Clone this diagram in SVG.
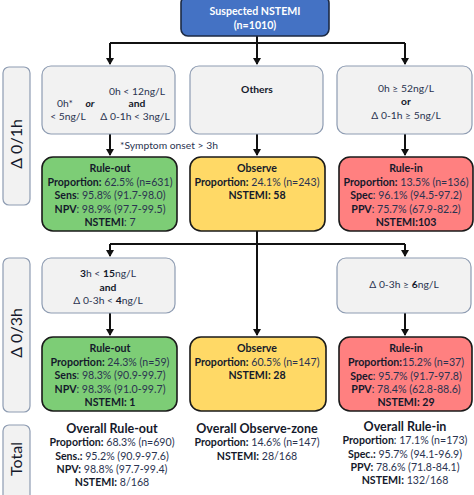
<svg xmlns="http://www.w3.org/2000/svg" width="474" height="495" viewBox="0 0 474 495">
<defs>
<marker id="ah" markerWidth="8" markerHeight="8" refX="6" refY="4" orient="auto" markerUnits="userSpaceOnUse">
<path d="M0,0 L7,4 L0,8 Z" fill="#111"/>
</marker>
<style>
text{font-family:Lato,"Liberation Sans",sans-serif;fill:#2a3350;text-anchor:middle}
.b{font-weight:bold;fill:#15192b}
.t{font-size:10.6px}
.s{font-size:10.3px}
.h{font-size:12.5px}
.gray{fill:#f2f2f2;stroke:#8e9cb2;stroke-width:1.2}
.res{stroke:#1a1a1a;stroke-width:1.6}
.green{fill:#7dcd76}
.yellow{fill:#ffd966}
.red{fill:#ff8080}
.c{fill:none;stroke:#111;stroke-width:2}
.side{font-size:16px;fill:#15192b}
</style>
</defs>
<rect width="474" height="495" fill="#ffffff"/>

<g id="connectors">
<path class="c" d="M257,36 V43"/>
<path class="c" d="M110,43 H405"/>
<path class="c" d="M110,43 V64" marker-end="url(#ah)"/>
<path class="c" d="M257,43 V64" marker-end="url(#ah)"/>
<path class="c" d="M405,43 V64" marker-end="url(#ah)"/>
<path class="c" d="M110,134 V155" marker-end="url(#ah)"/>
<path class="c" d="M257,134 V155" marker-end="url(#ah)"/>
<path class="c" d="M405,134 V155" marker-end="url(#ah)"/>
<path class="c" d="M257,231 V335" marker-end="url(#ah)"/>
<path class="c" d="M110,244 H405"/>
<path class="c" d="M110,244 V256" marker-end="url(#ah)"/>
<path class="c" d="M405,244 V256" marker-end="url(#ah)"/>
<path class="c" d="M110,313 V335" marker-end="url(#ah)"/>
<path class="c" d="M405,313 V335" marker-end="url(#ah)"/>
</g>

<g id="start">
<rect x="181" y="-4" width="148" height="40" rx="7" fill="#4472c4" stroke="#1c2a44" stroke-width="1.6"/>
<text x="255" y="15" class="t b" style="fill:#ffffff">Suspected NSTEMI</text>
<text x="255" y="29" class="t b" style="fill:#ffffff">(n=1010)</text>
</g>

<g id="side1">
<rect x="3" y="67" width="27" height="138" rx="6" class="gray"/>
<text class="side" transform="translate(22,144) rotate(-90)">Δ 0/1h</text>
</g>
<g id="side2">
<rect x="3" y="258" width="27" height="154" rx="6" class="gray"/>
<text class="side" transform="translate(22,333) rotate(-90)">Δ 0/3h</text>
</g>
<g id="side3">
<rect x="3" y="425" width="27" height="80" rx="6" class="gray"/>
<text class="side" transform="translate(22,459) rotate(-90)">Total</text>
</g>

<g id="cond1-out">
<rect x="42" y="66" width="133" height="68" rx="9" class="gray"/>
<text x="65" y="107" class="s">0h*</text>
<text x="90" y="107" class="s b" font-style="italic">or</text>
<text x="68" y="120" class="s">&lt; 5ng/L</text>
<text x="137" y="95" class="s">0h &lt; 12ng/L</text>
<text x="137" y="107" class="s b">and</text>
<text x="135" y="120" class="s">Δ 0-1h &lt; 3ng/L</text>
</g>
<g id="cond1-others">
<rect x="190" y="66" width="133" height="68" rx="9" class="gray"/>
<text x="257" y="93" class="s b">Others</text>
</g>
<g id="cond1-in">
<rect x="337" y="66" width="135" height="68" rx="9" class="gray"/>
<text x="406" y="92" class="s">0h ≥ 52ng/L</text>
<text x="406" y="105" class="s b">or</text>
<text x="406" y="119" class="s">Δ 0-1h ≥ 5ng/L</text>
</g>

<text id="footnote" x="120" y="149" class="s" style="text-anchor:start">*Symptom onset &gt; 3h</text>

<g id="res1-out">
<rect x="42" y="157" width="135" height="74" rx="11" class="res green"/>
<text x="110" y="172" class="t b">Rule-out</text>
<text x="110" y="186" class="t"><tspan class="b">Proportion:</tspan> 62.5% (n=631)</text>
<text x="110" y="199" class="t"><tspan class="b">Sens</tspan>: 95.8% (91.7-98.0)</text>
<text x="110" y="213" class="t"><tspan class="b">NPV</tspan>: 98.9% (97.7-99.5)</text>
<text x="110" y="226" class="t"><tspan class="b">NSTEMI</tspan>: 7</text>
</g>
<g id="res1-obs">
<rect x="190" y="157" width="135" height="74" rx="11" class="res yellow"/>
<text x="257" y="172" class="t b">Observe</text>
<text x="257" y="186" class="t"><tspan class="b">Proportion:</tspan> 24.1% (n=243)</text>
<text x="257" y="199" class="t b">NSTEMI: 58</text>
</g>
<g id="res1-in">
<rect x="339" y="157" width="134" height="74" rx="11" class="res red"/>
<text x="406" y="172" class="t b">Rule-in</text>
<text x="406" y="186" class="t"><tspan class="b">Proportion:</tspan> 13.5% (n=136)</text>
<text x="406" y="199" class="t"><tspan class="b">Spec</tspan>: 96.1% (94.5-97.2)</text>
<text x="406" y="213" class="t"><tspan class="b">PPV</tspan>: 75.7% (67.9-82.2)</text>
<text x="406" y="226" class="t b">NSTEMI:103</text>
</g>

<g id="cond2-out">
<rect x="42" y="258" width="133" height="55" rx="9" class="gray"/>
<text x="108" y="277" class="s"><tspan class="b">3</tspan>h &lt; <tspan class="b">15</tspan>ng/L</text>
<text x="108" y="291" class="s b">and</text>
<text x="108" y="304" class="s">Δ 0-3h &lt; <tspan class="b">4</tspan>ng/L</text>
</g>
<g id="cond2-in">
<rect x="337" y="258" width="134" height="55" rx="9" class="gray"/>
<text x="404" y="288" class="s">Δ 0-3h ≥ <tspan class="b">6</tspan>ng/L</text>
</g>

<g id="res2-out">
<rect x="42" y="337" width="135" height="74" rx="11" class="res green"/>
<text x="110" y="352" class="t b">Rule-out</text>
<text x="110" y="366" class="t"><tspan class="b">Proportion:</tspan> 24.3% (n=59)</text>
<text x="110" y="379" class="t"><tspan class="b">Sens</tspan>: 98.3% (90.9-99.7)</text>
<text x="110" y="393" class="t"><tspan class="b">NPV</tspan>: 98.3% (91.0-99.7)</text>
<text x="110" y="406" class="t b">NSTEMI: 1</text>
</g>
<g id="res2-obs">
<rect x="190" y="337" width="136" height="74" rx="11" class="res yellow"/>
<text x="257" y="352" class="t b">Observe</text>
<text x="257" y="366" class="t"><tspan class="b">Proportion:</tspan> 60.5% (n=147)</text>
<text x="257" y="379" class="t b">NSTEMI: 28</text>
</g>
<g id="res2-in">
<rect x="339" y="337" width="133" height="74" rx="11" class="res red"/>
<text x="406" y="352" class="t b">Rule-in</text>
<text x="406" y="366" class="t"><tspan class="b">Proportion:</tspan>15.2% (n=37)</text>
<text x="406" y="380" class="t"><tspan class="b">Spec</tspan>: 95.7% (91.7-97.8)</text>
<text x="406" y="393" class="t"><tspan class="b">PPV</tspan>: 78.4% (62.8-88.6)</text>
<text x="406" y="406" class="t b">NSTEMI: 29</text>
</g>

<g id="total-out">
<text x="112" y="433" class="h b">Overall Rule-out</text>
<text x="112" y="446" class="t"><tspan class="b">Proportion:</tspan> 68.3% (n=690)</text>
<text x="112" y="460" class="t"><tspan class="b">Sens.:</tspan>  95.2% (90.9-97.6)</text>
<text x="112" y="473" class="t"><tspan class="b">NPV:</tspan> 98.8% (97.7-99.4)</text>
<text x="112" y="486" class="t"><tspan class="b">NSTEMI:</tspan> 8/168</text>
</g>
<g id="total-obs">
<text x="257" y="433" class="h b">Overall Observe-zone</text>
<text x="257" y="446" class="t"><tspan class="b">Proportion:</tspan> 14.6% (n=147)</text>
<text x="257" y="460" class="t"><tspan class="b">NSTEMI:</tspan> 28/168</text>
</g>
<g id="total-in">
<text x="405" y="431" class="h b">Overall Rule-in</text>
<text x="405" y="444" class="t"><tspan class="b">Proportion</tspan>: 17.1% (n=173)</text>
<text x="405" y="458" class="t"><tspan class="b">Spec.:</tspan> 95.7% (94.1-96.9)</text>
<text x="405" y="471" class="t"><tspan class="b">PPV:</tspan> 78.6% (71.8-84.1)</text>
<text x="405" y="484" class="t"><tspan class="b">NSTEMI:</tspan> 132/168</text>
</g>
</svg>
